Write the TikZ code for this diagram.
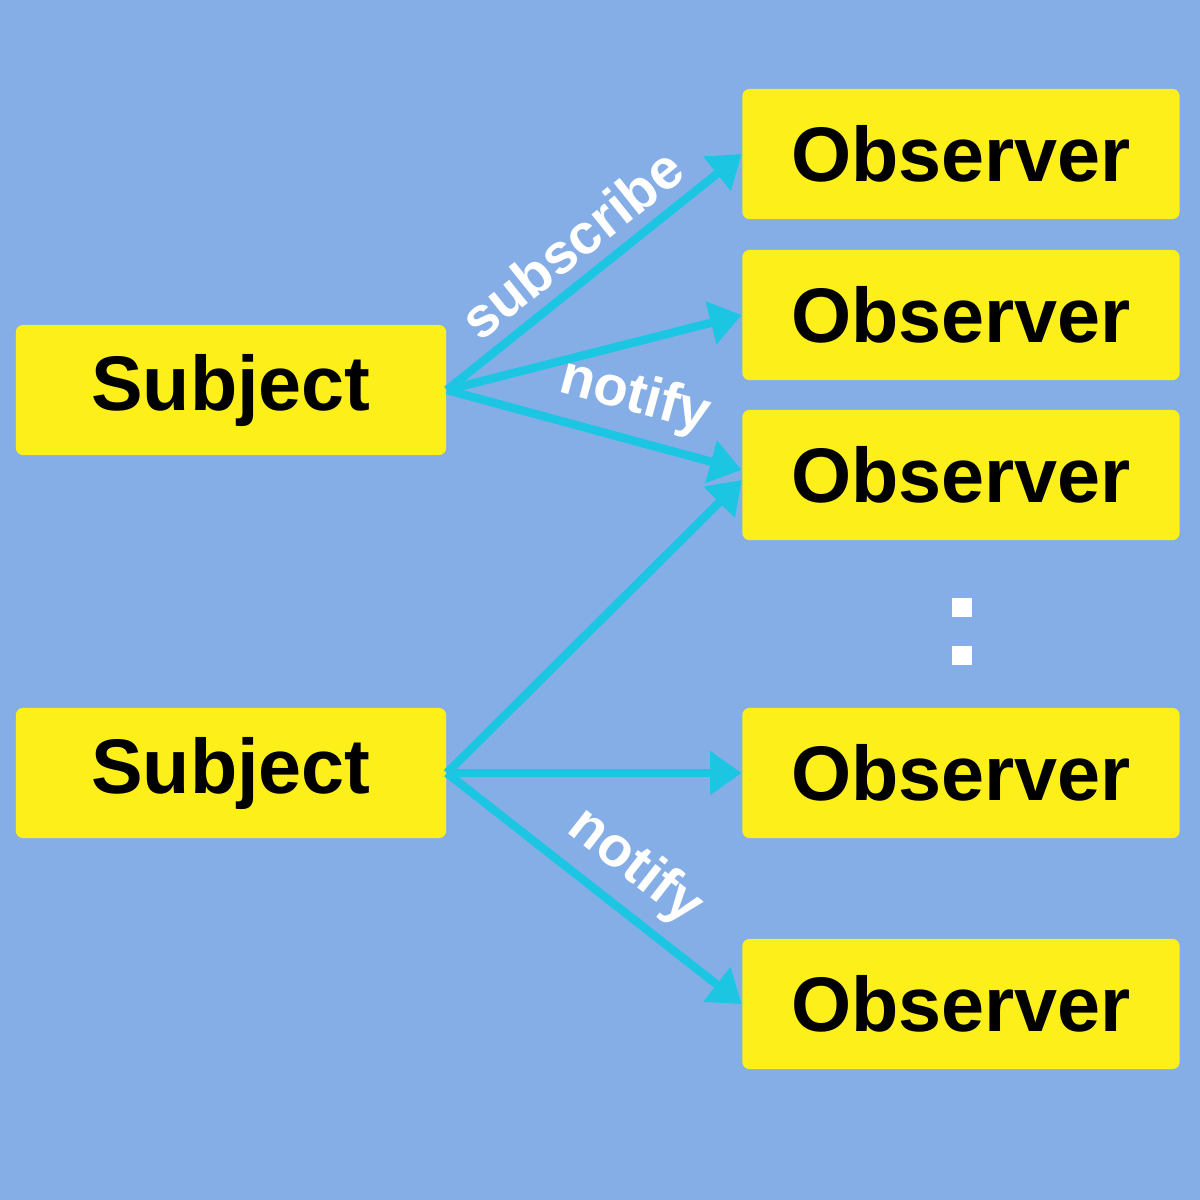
\documentclass[tikz,border=0pt]{standalone}
\usepackage{fontspec}
\setmainfont{Liberation Sans}
\definecolor{bgblue}{HTML}{86AEE6}
\definecolor{boxyellow}{HTML}{FDEF1A}
\definecolor{linkcyan}{HTML}{1CC6E2}
\tikzset{
	role/.style = {fill = boxyellow, rounded corners = 2pt, minimum width = 4.3cm,
		minimum height = 1.3cm, font = \fontsize{22}{26}\selectfont\bfseries},
	link/.style = {linkcyan, line width = 2.4pt, -{Triangle[length = 9pt, width = 12pt]}},
	tag/.style = {white, sloped, above, font = \fontsize{16}{19}\selectfont\bfseries}
}
\usetikzlibrary{arrows.meta}
\begin{document}
\begin{tikzpicture}[x = 0.01cm, y = -0.01cm]

	% Background

	\fill [bgblue] (0, 0) rectangle (1200, 1200);

	% Subjects

	\node [role] (subA) at (231, 390) {Subject};
	\node [role] (subB) at (231, 773) {Subject};

	% Observers

	\node [role, minimum width = 4.37cm] (obsA) at (961, 154) {Observer};
	\node [role, minimum width = 4.37cm] (obsB) at (961, 315) {Observer};
	\node [role, minimum width = 4.37cm] (obsC) at (961, 475) {Observer};
	\node [role, minimum width = 4.37cm] (obsD) at (961, 773) {Observer};
	\node [role, minimum width = 4.37cm] (obsE) at (961, 1004) {Observer};

	% Ellipsis

	\fill [white] (952, 598) rectangle (972, 617);
	\fill [white] (952, 646) rectangle (972, 665);

	% Connectors

	\draw [link] (subA.east) -- node [tag, pos = 0.5] {subscribe} (obsA.west);
	\draw [link] (subA.east) -- (obsB.west);
	\draw [link] (subA.east) -- node [tag, pos = 0.6] {notify} ([yshift = 0.05cm] obsC.west);
	\draw [link] (subB.east) -- ([yshift = -0.05cm] obsC.west);
	\draw [link] (subB.east) -- (obsD.west);
	\draw [link] (subB.east) -- node [tag, pos = 0.55] {notify} (obsE.west);

\end{tikzpicture}
\end{document}
